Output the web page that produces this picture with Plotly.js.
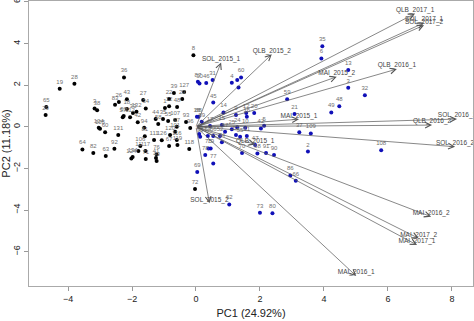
<!DOCTYPE html>
<html><head><meta charset="utf-8">
<script src="https://cdn.plot.ly/plotly-3.0.1.min.js"></script>
<style>html,body{margin:0;padding:0;background:#fff}#chart{width:474px;height:321px}</style>
</head><body><div id="chart"></div>
<script>
// Group 1 (black) scores
const blackLabels = ["65","29","19","28","36","27","34","43","26","83","3","38","132","53","18","112","57","33","42","94","44","58","104","105","60","131","81","111","106","117","64","82","63","92","124","134","11","71","76","40","41","126","67","107","22","39","127","23","12","1","48","35","55","97","120","116","119","101","118","8","72","93","96"];
const blackPC1 = [-4.68,-4.70,-4.26,-3.80,-2.25,-1.65,-1.57,-2.16,-2.41,-2.53,-3.17,-3.09,-1.86,-2.26,-2.16,-2.06,-2.29,-1.97,-1.82,-1.62,-1.26,-1.18,-3.04,-3.00,-2.84,-2.43,-1.60,-1.31,-1.74,-1.58,-3.55,-3.21,-2.82,-2.55,-2.02,-1.98,-1.80,-1.57,-1.23,-1.23,-1.25,-1.07,-0.84,-0.65,-0.84,-0.69,-0.37,-0.43,-0.84,-0.97,-0.59,-1.03,-0.87,-0.60,-0.81,-0.60,-0.58,-0.65,-0.21,-0.08,-0.03,-0.31,-0.18];
const blackPC2 = [0.95,0.56,1.82,2.06,2.37,1.28,0.88,1.32,1.19,1.06,0.88,0.79,0.72,0.51,0.85,0.45,0.45,0.66,0.21,-0.05,0.37,0.13,-0.05,-0.10,-0.27,-0.40,-0.46,-0.64,-0.93,-1.17,-1.09,-1.26,-1.41,-1.06,-1.52,-1.45,-1.17,-1.55,-1.33,-1.65,-1.50,-0.65,-0.93,0.32,1.33,1.62,1.67,1.33,0.99,0.90,0.95,0.37,0.27,0.00,-0.40,-0.64,-0.88,-0.24,-1.07,3.44,-2.99,0.23,-0.06];

// Group 2 (blue) scores
const blueLabels = ["87","30","46","31","45","4","60","","","18","88","14","9","12","20","59","21","35","6","13","3","32","48","49","37","109","2","108","68","91","90","86","66","77","69","62","73","80","78","75","79","70","42","5","47","17","15","25","24","10","16","54","56","52","51","55","61","98","99","89","74","57"];
const bluePC1 = [0.06,0.11,0.32,0.52,0.54,1.12,1.41,1.29,1.33,0.03,0.08,0.86,1.25,1.57,1.82,2.85,3.08,3.95,3.92,4.76,4.76,5.28,4.48,4.23,3.23,3.59,3.50,5.79,1.92,2.19,2.44,2.95,3.12,0.54,0.04,1.04,2.00,2.39,0.29,0.39,0.46,1.44,2.03,2.13,1.85,0.44,0.81,1.12,1.29,1.54,1.59,0.37,0.54,0.75,1.25,1.38,1.59,0.10,0.13,0.18,0.81,0.91];
const bluePC2 = [2.16,2.08,2.10,2.24,1.16,2.11,2.37,2.24,1.89,0.48,0.48,0.69,0.56,0.66,0.66,1.32,0.61,3.87,3.28,2.72,1.87,1.51,0.98,0.69,-0.27,-0.32,-1.19,-1.13,-1.28,-1.26,-1.36,-2.34,-2.59,-1.76,-2.17,-3.73,-4.13,-4.16,-1.36,-1.04,-1.04,-1.26,-0.08,0.05,-0.88,0.03,0.08,-0.12,-0.03,-0.05,0.48,-0.45,-0.45,-0.45,-0.40,-0.48,-0.45,-0.35,-0.48,0.24,-0.75,-0.24];

// Variable loadings (arrows)
const varNames = ["SOL_2015_1","QLB_2015_2","QLB_2017_1","SOL_2017_1","SOL_2017_2","MAI_2015_2","QLB_2016_1","MAI_2015_1","SOL_2016_1","QLB_2016_2","SOL_2016_2","QLB_2015_1","SOL_2015_2","MAI_2016_2","MAI_2017_2","MAI_2017_1","MAI_2016_1"];
const varPC1 = [0.785,2.37,6.85,7.13,7.13,4.40,6.28,3.22,8.16,7.38,8.10,1.85,0.42,7.35,6.96,6.91,5.01];
const varPC2 = [3.09,3.48,5.44,4.99,4.88,2.40,2.77,0.36,0.37,0.08,-0.96,-0.85,-3.68,-4.32,-5.36,-5.68,-7.17];

const FONT = "Liberation Sans, Arial, Helvetica, sans-serif";

const traces = [
  {type:"scatter", mode:"markers+text", x:blackPC1, y:blackPC2, text:blackLabels,
   textposition:"top center", textfont:{family:FONT,size:6,color:"#707070"},
   marker:{color:"#000",size:4}, hoverinfo:"none", cliponaxis:true},
  {type:"scatter", mode:"markers+text", x:bluePC1, y:bluePC2, text:blueLabels,
   textposition:"top center", textfont:{family:FONT,size:6,color:"#707070"},
   marker:{color:"#1010b8",size:4}, hoverinfo:"none", cliponaxis:true},
  {type:"scatter", mode:"text", x:varPC1, y:varPC2, text:varNames,
   textposition:"top center", textfont:{family:FONT,size:6.5,color:"#444"},
   hoverinfo:"none", cliponaxis:true}
];

const annotations = varNames.map((n,i)=>({
  x:varPC1[i], y:varPC2[i], ax:0, ay:0, xref:"x", yref:"y", axref:"x", ayref:"y",
  text:"", showarrow:true, arrowhead:5, arrowsize:1.6, arrowwidth:0.7,
  arrowcolor:"#555", standoff:0, startstandoff:0
}));

const layout = {
  width:474, height:321,
  margin:{l:29,r:1,t:1,b:35},
  paper_bgcolor:"#fff", plot_bgcolor:"#fff",
  showlegend:false,
  font:{family:FONT,size:9,color:"#222"},
  xaxis:{range:[-5.22,8.66], tickvals:[-4,-2,0,2,4,6,8], ticks:"outside", ticklen:4,
    tickcolor:"#999", showline:true, mirror:true, linecolor:"#aaa", linewidth:1,
    showgrid:false, zeroline:false, tickfont:{size:9,color:"#222"},
    title:{text:"PC1 (24.92%)", font:{size:11,color:"#222"}, standoff:6}},
  yaxis:{range:[-7.65,6.04], tickvals:[-6,-4,-2,0,2,4,6], ticks:"outside", ticklen:4,
    tickcolor:"#999", showline:true, mirror:true, linecolor:"#aaa", linewidth:1,
    showgrid:false, zeroline:false, tickangle:-90, ticklabeloverflow:"allow",
    tickfont:{size:9,color:"#222"},
    title:{text:"PC2 (11.18%)", font:{size:11,color:"#222"}, standoff:4}},
  annotations:annotations
};

Plotly.newPlot("chart", traces, layout, {displayModeBar:false, staticPlot:true});
</script></body></html>
